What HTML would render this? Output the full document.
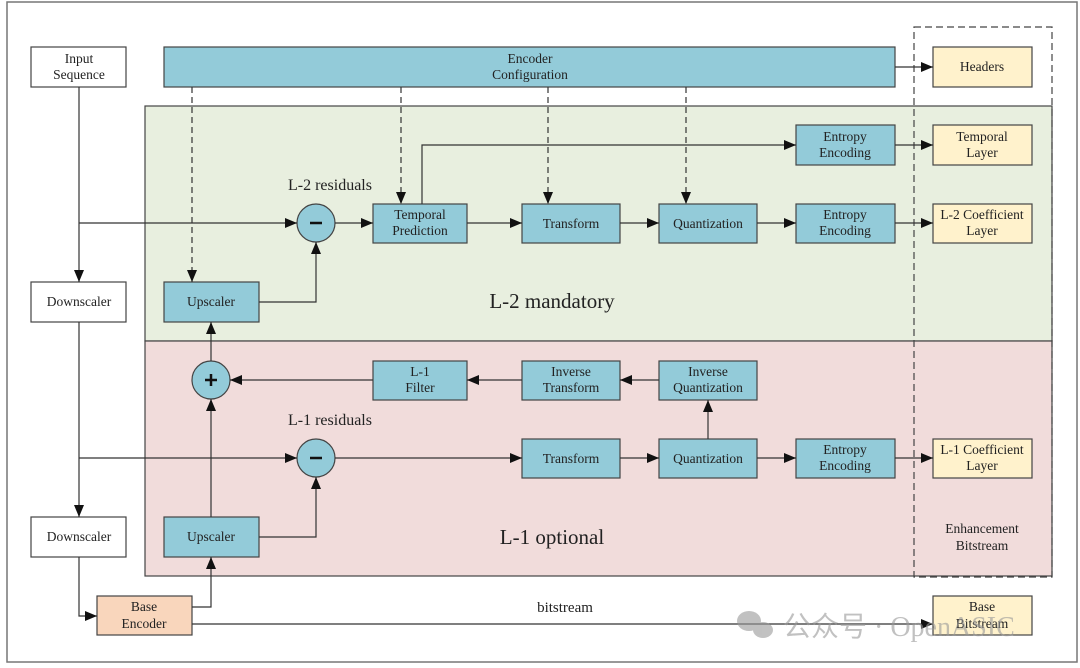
<!DOCTYPE html>
<html><head><meta charset="utf-8"><style>
body{margin:0;background:#fff}
svg{display:block}
text{font-family:"Liberation Serif",serif;fill:#222}
</style></head><body>
<svg width="1080" height="668" viewBox="0 0 1080 668" xmlns="http://www.w3.org/2000/svg">
<defs>
<marker id="a" markerWidth="12" markerHeight="10" refX="12" refY="5" orient="auto" markerUnits="userSpaceOnUse"><path d="M0,0 L12,5 L0,10z" fill="#111"/></marker>
</defs>
<rect x="7" y="2" width="1070" height="660" fill="#fff" stroke="#777" stroke-width="1.5"/>
<rect x="145" y="106" width="907" height="235" fill="#e8efdf" stroke="#444" stroke-width="1.2"/>
<rect x="145" y="341" width="907" height="235" fill="#f1dcdb" stroke="#444" stroke-width="1.2"/>
<rect x="914" y="27" width="138" height="550" fill="none" stroke="#444" stroke-width="1.2" stroke-dasharray="7,4"/>
<g stroke="#444" stroke-width="1.2">
<rect x="31" y="47" width="95" height="40" fill="#fff"/>
<rect x="164" y="47" width="731" height="40" fill="#93cbd9"/>
<rect x="933" y="47" width="99" height="40" fill="#fff2cc"/>
<rect x="796" y="125" width="99" height="40" fill="#93cbd9"/>
<rect x="933" y="125" width="99" height="40" fill="#fff2cc"/>
<rect x="373" y="204" width="94" height="39" fill="#93cbd9"/>
<rect x="522" y="204" width="98" height="39" fill="#93cbd9"/>
<rect x="659" y="204" width="98" height="39" fill="#93cbd9"/>
<rect x="796" y="204" width="99" height="39" fill="#93cbd9"/>
<rect x="933" y="204" width="99" height="39" fill="#fff2cc"/>
<rect x="31" y="282" width="95" height="40" fill="#fff"/>
<rect x="164" y="282" width="95" height="40" fill="#93cbd9"/>
<rect x="373" y="361" width="94" height="39" fill="#93cbd9"/>
<rect x="522" y="361" width="98" height="39" fill="#93cbd9"/>
<rect x="659" y="361" width="98" height="39" fill="#93cbd9"/>
<rect x="522" y="439" width="98" height="39" fill="#93cbd9"/>
<rect x="659" y="439" width="98" height="39" fill="#93cbd9"/>
<rect x="796" y="439" width="99" height="39" fill="#93cbd9"/>
<rect x="933" y="439" width="99" height="39" fill="#fff2cc"/>
<rect x="31" y="517" width="95" height="40" fill="#fff"/>
<rect x="164" y="517" width="95" height="40" fill="#93cbd9"/>
<rect x="97" y="596" width="95" height="39" fill="#f9d6bc"/>
<rect x="933" y="596" width="99" height="39" fill="#fff2cc"/>
<circle cx="316" cy="223" r="19" fill="#93cbd9"/>
<circle cx="211" cy="380" r="19" fill="#93cbd9"/>
<circle cx="316" cy="458" r="19" fill="#93cbd9"/>
</g>
<g stroke="#111" stroke-width="2.5"><path d="M310,223h12M310,458h12M205,380h12M211,374v12"/></g>
<g stroke="#333" stroke-width="1.2" fill="none" marker-end="url(#a)">
<path d="M79,87V282"/>
<path d="M79,223H297"/>
<path d="M79,322V517"/>
<path d="M79,458H297"/>
<path d="M79,557V616H97"/>
<path d="M192,607H211V557"/>
<path d="M192,624H933"/>
<path d="M211,517V399"/>
<path d="M211,361V322"/>
<path d="M259,537H316V477"/>
<path d="M259,302H316V242"/>
<path d="M335,223H373"/>
<path d="M467,223H522"/>
<path d="M620,223H659"/>
<path d="M757,223H796"/>
<path d="M895,223H933"/>
<path d="M422,204V145H796"/>
<path d="M895,145H933"/>
<path d="M895,67H933"/>
<path d="M335,458H522"/>
<path d="M620,458H659"/>
<path d="M757,458H796"/>
<path d="M895,458H933"/>
<path d="M708,439V400"/>
<path d="M659,380H620"/>
<path d="M522,380H467"/>
<path d="M373,380H230"/>
</g>
<g stroke="#333" stroke-width="1.2" fill="none" stroke-dasharray="6,4" marker-end="url(#a)">
<path d="M192,87V282"/>
<path d="M401,87V204"/>
<path d="M548,87V204"/>
<path d="M686,87V204"/>
</g>
<g font-size="13.5" text-anchor="middle">
<text x="79" y="63">Input</text><text x="79" y="79">Sequence</text>
<text x="530" y="63">Encoder</text><text x="530" y="79">Configuration</text>
<text x="982" y="71">Headers</text>
<text x="845" y="141">Entropy</text><text x="845" y="157">Encoding</text>
<text x="982" y="141">Temporal</text><text x="982" y="157">Layer</text>
<text x="420" y="219">Temporal</text><text x="420" y="235">Prediction</text>
<text x="571" y="228">Transform</text>
<text x="708" y="228">Quantization</text>
<text x="845" y="219">Entropy</text><text x="845" y="235">Encoding</text>
<text x="982" y="219">L-2 Coefficient</text><text x="982" y="235">Layer</text>
<text x="79" y="306">Downscaler</text>
<text x="211" y="306">Upscaler</text>
<text x="420" y="376">L-1</text><text x="420" y="392">Filter</text>
<text x="571" y="376">Inverse</text><text x="571" y="392">Transform</text>
<text x="708" y="376">Inverse</text><text x="708" y="392">Quantization</text>
<text x="571" y="463">Transform</text>
<text x="708" y="463">Quantization</text>
<text x="845" y="454">Entropy</text><text x="845" y="470">Encoding</text>
<text x="982" y="454">L-1 Coefficient</text><text x="982" y="470">Layer</text>
<text x="79" y="541">Downscaler</text>
<text x="211" y="541">Upscaler</text>
<text x="144" y="611">Base</text><text x="144" y="628">Encoder</text>
<text x="982" y="611">Base</text><text x="982" y="628">Bitstream</text>
<text x="982" y="533">Enhancement</text><text x="982" y="550">Bitstream</text>
</g>
<g text-anchor="middle">
<text x="330" y="190" font-size="16">L-2 residuals</text>
<text x="330" y="425" font-size="16">L-1 residuals</text>
<text x="565" y="612" font-size="15">bitstream</text>
<text x="552" y="308" font-size="21">L-2 mandatory</text>
<text x="552" y="544" font-size="21">L-1 optional</text>
</g>
<g fill="#999" opacity="0.6"><ellipse cx="749" cy="621" rx="12" ry="10"/><ellipse cx="763" cy="630" rx="10" ry="8"/></g>
<text x="783" y="636" font-size="28" font-family="'Liberation Sans','Noto Sans CJK SC',sans-serif" style="fill:#999;opacity:0.6">公众号 · OpenASIC</text>
</svg>
</body></html>
